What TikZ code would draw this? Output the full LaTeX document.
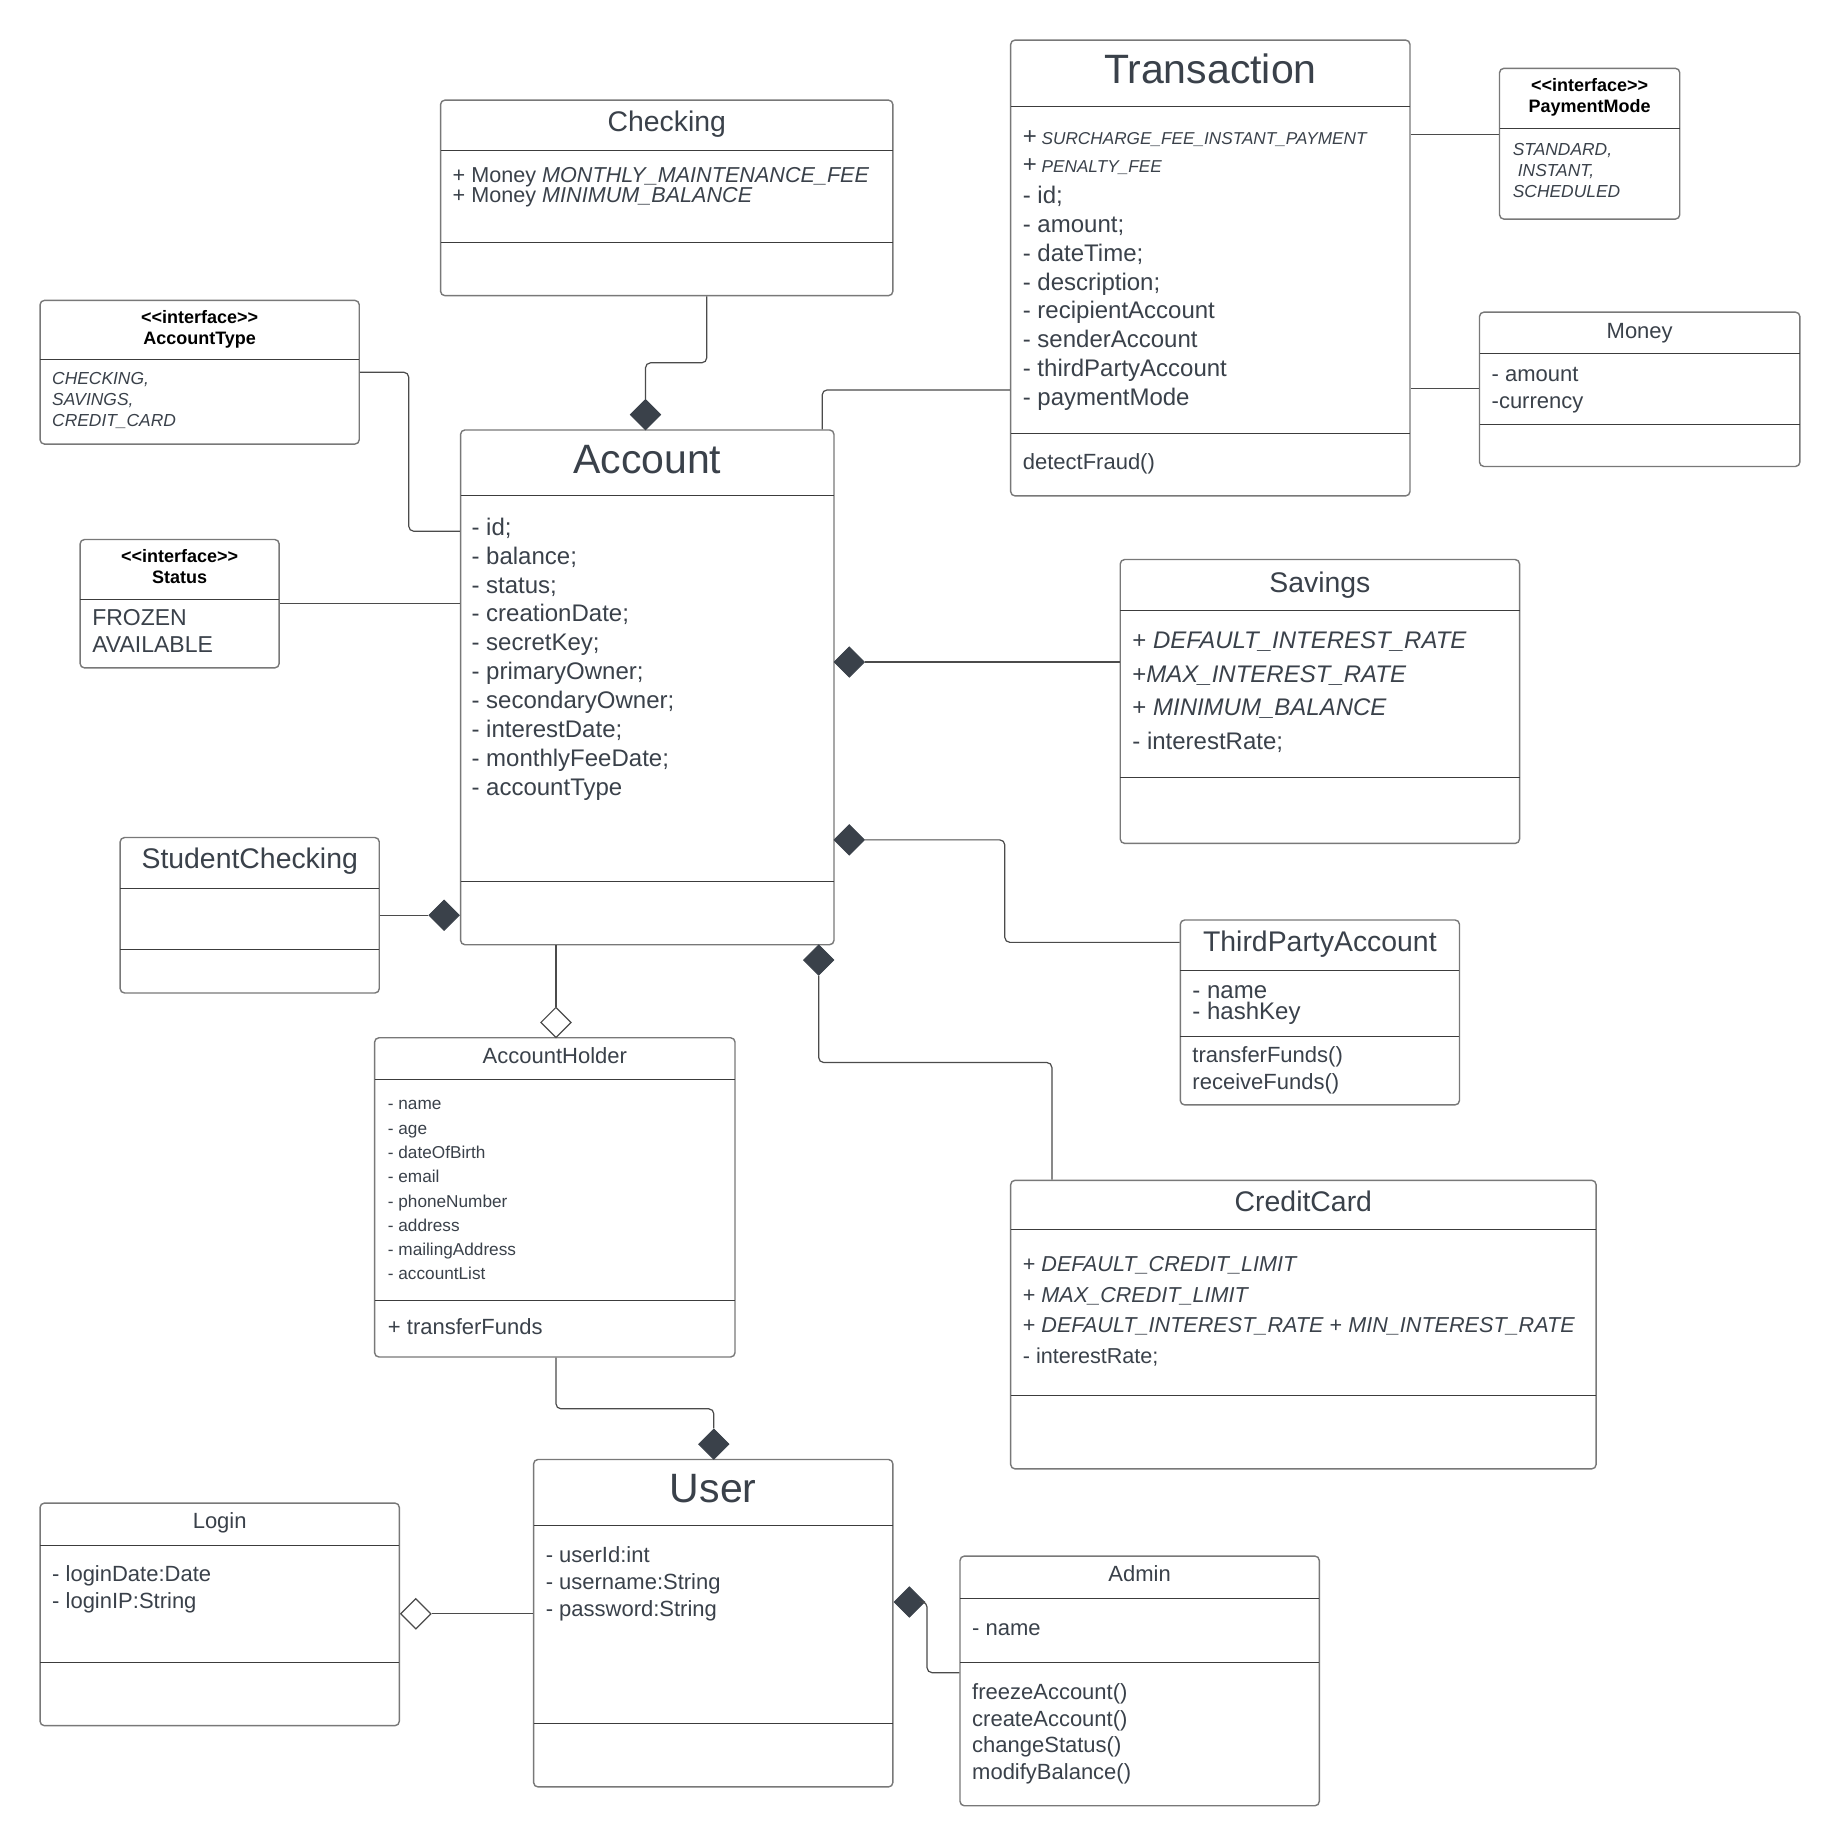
\documentclass[tikz,border=0pt]{standalone}
\usepackage{fontspec}
\setmainfont{Liberation Sans}
\usetikzlibrary{shapes.geometric,fit}
\definecolor{txt}{RGB}{58,65,74}
\definecolor{bord}{RGB}{120,120,120}
\definecolor{divc}{RGB}{60,60,60}
\definecolor{connc}{RGB}{75,75,75}
\definecolor{dfill}{RGB}{58,65,74}
\tikzset{
 box/.style={draw=bord, line width=0.7pt, rounded corners=2.2pt, inner sep=0pt},
 divline/.style={draw=divc, line width=0.5pt},
 conn/.style={draw=connc, line width=0.6pt, rounded corners=2.5pt},
 fdiam/.style={diamond, aspect=1, fill=dfill, draw=dfill, line width=0.4pt, inner sep=0pt, minimum size=15.3pt},
 hdiam/.style={diamond, aspect=1, fill=white, draw=connc, line width=0.6pt, inner sep=0pt, minimum size=15.3pt},
 basetxt/.style={inner sep=0pt, text depth=0pt, text=txt},
 ln/.style={basetxt, anchor=west},
 ttl/.style={basetxt, anchor=center},
 fz/.style 2 args={font=\fontsize{#1pt}{#1pt}\selectfont, text height=#2pt},
 hdr/.style={basetxt, anchor=center, text=black, font=\fontsize{9pt}{9pt}\selectfont\bfseries, text height=6.5pt},
}
\newcommand\umlbox[7]{%
  \node[box, fit={(#2,#3) (#4,#5)}] (#1) {};
  \draw[divline] (#2,#6) -- (#4,#6);
  \ifx&#7&\else\draw[divline] (#2,#7) -- (#4,#7);\fi
}
\newcommand\lns[6]{%
  \foreach \itm [count=\i from 0] in {#6}{\node[#2] (#1\i) at (#3,{#4+\i*#5}) {\itm};}%
}
\begin{document}
\begin{tikzpicture}[x=0.589pt, y=-0.589pt]
\useasboundingbox (0,0) rectangle (1562,1568);
\fill[white] (0,0) rectangle (1562,1568);

% boxes
\umlbox{checking}{374}{85}{758}{251}{128}{206}
\umlbox{transaction}{858}{34}{1197}{421}{90}{368}
\umlbox{paymentmode}{1273}{58}{1426}{186}{109}{}
\umlbox{money}{1256}{265}{1528}{396}{300}{360}
\umlbox{accounttype}{34}{255}{305}{377}{305}{}
\umlbox{status}{68}{458}{237}{567}{509}{}
\umlbox{account}{391}{365}{708}{802}{421}{748}
\umlbox{savings}{951}{475}{1290}{716}{518}{660}
\umlbox{studentchecking}{102}{711}{322}{843}{754}{806}
\umlbox{thirdparty}{1002}{781}{1239}{938}{824}{880}
\umlbox{accountholder}{318}{881}{624}{1152}{916}{1104}
\umlbox{creditcard}{858}{1002}{1355}{1247}{1044}{1185}
\umlbox{user}{453}{1239}{758}{1517}{1295}{1463}
\umlbox{login}{34}{1276}{339}{1465}{1312}{1411}
\umlbox{admin}{815}{1321}{1120}{1533}{1357}{1411}

% titles
\node[ttl,fz={14.2}{10.2}] (checking-t) at (566,103) {Checking};
\node[ttl,fz={20.5}{14.8}] (transaction-t) at (1027.5,58) {Transaction};
\node[hdr] (pm-t1) at (1349.5,72) {<{}<interface>{}>};
\node[hdr] (pm-t2) at (1349.5,90) {PaymentMode};
\node[ttl,fz={11}{7.9}] (money-t) at (1392,281) {Money};
\node[hdr] (at-t1) at (169.5,269) {<{}<interface>{}>};
\node[hdr] (at-t2) at (169.5,287) {AccountType};
\node[hdr] (st-t1) at (152.5,472) {<{}<interface>{}>};
\node[hdr] (st-t2) at (152.5,490) {Status};
\node[ttl,fz={20.5}{14.8}] (account-t) at (549.5,389) {Account};
\node[ttl,fz={14.2}{10.2}] (savings-t) at (1120.5,494) {Savings};
\node[ttl,fz={14.2}{10.2}] (sc-t) at (212,729) {StudentChecking};
\node[ttl,fz={14.2}{10.2}] (tpa-t) at (1120.5,799) {ThirdPartyAccount};
\node[ttl,fz={11}{7.9}] (ah-t) at (471,896) {AccountHolder};
\node[ttl,fz={14.2}{10.2}] (cc-t) at (1106.5,1020) {CreditCard};
\node[ttl,fz={20.5}{14.8}] (user-t) at (605.5,1263) {User};
\node[ttl,fz={11}{7.9}] (login-t) at (186.5,1291) {Login};
\node[ttl,fz={11}{7.9}] (admin-t) at (967.5,1336) {Admin};

% members
\lns{chk}{ln,fz={10.8}{7.8}}{384}{148}{17}{{+ Money \textit{MONTHLY\_MAINTENANCE\_FEE}},{+ Money \textit{MINIMUM\_BALANCE}}}
\node[ln,fz={8.6}{6.2}] (trn-s1) at (868,117) {{\fontsize{12pt}{12pt}\selectfont +} \textit{SURCHARGE\_FEE\_INSTANT\_PAYMENT}};
\node[ln,fz={8.6}{6.2}] (trn-s2) at (868,141) {{\fontsize{12pt}{12pt}\selectfont +} \textit{PENALTY\_FEE}};
\lns{trn}{ln,fz={12}{8.6}}{868}{165.8}{24.4}{{- id;},{- amount;},{- dateTime;},{- description;},{- recipientAccount},{- senderAccount},{- thirdPartyAccount},{- paymentMode}}
\node[ln,fz={11}{7.9}] (trn-m) at (868,392) {detectFraud()};
\lns{pm}{ln,fz={8.7}{6.3}}{1284}{127}{17.5}{{\textit{STANDARD,}},{\hspace{2.5pt}\textit{INSTANT,}},{\textit{SCHEDULED}}}
\lns{mon}{ln,fz={11}{7.9}}{1266}{317}{23}{{- amount},{-currency}}
\lns{at}{ln,fz={8.7}{6.3}}{44}{321}{18}{{\textit{CHECKING,}},{\textit{SAVINGS,}},{\textit{CREDIT\_CARD}}}
\lns{st}{ln,fz={11.5}{8.3}}{78}{524}{23}{FROZEN,AVAILABLE}
\lns{acc}{ln,fz={12}{8.6}}{400}{447}{24.56}{{- id;},{- balance;},{- status;},{- creationDate;},{- secretKey;},{- primaryOwner;},{- secondaryOwner;},{- interestDate;},{- monthlyFeeDate;},{- accountType}}
\lns{sav}{ln,fz={12}{8.6}}{961}{543}{28.7}{{+ \textit{DEFAULT\_INTEREST\_RATE}},{+\textit{MAX\_INTEREST\_RATE}},{+ \textit{MINIMUM\_BALANCE}},{- interestRate;}}
\lns{tpa}{ln,fz={12}{8.6}}{1012}{840}{18}{{- name},{- hashKey}}
\lns{tpm}{ln,fz={11}{7.9}}{1012}{895}{23}{{transferFunds()},{receiveFunds()}}
\lns{ah}{ln,fz={8.6}{6.2}}{329}{937}{20.6}{{- name},{- age},{- dateOfBirth},{- email},{- phoneNumber},{- address},{- mailingAddress},{- accountList}}
\node[ln,fz={11}{7.9}] (ah-m) at (329,1126) {+ transferFunds};
\lns{cc}{ln,fz={10.8}{7.8}}{868}{1073}{26}{{+ \textit{DEFAULT\_CREDIT\_LIMIT}},{+ \textit{MAX\_CREDIT\_LIMIT}},{+ \textit{DEFAULT\_INTEREST\_RATE} + \textit{MIN\_INTEREST\_RATE}},{- interestRate;}}
\lns{usr}{ln,fz={11}{7.9}}{463}{1320}{23}{{- userId:int},{- username:String},{- password:String}}
\lns{lg}{ln,fz={11}{7.9}}{44}{1336}{23}{{- loginDate:Date},{- loginIP:String}}
\node[ln,fz={11}{7.9}] (adm-a) at (825,1382) {- name};
\lns{adm}{ln,fz={11}{7.9}}{825}{1436}{22.7}{{freezeAccount()},{createAccount()},{changeStatus()},{modifyBalance()}}

% diamonds
\node[fdiam] (d-check) at (548,352) {};
\node[fdiam] (d-sav) at (721,562) {};
\node[fdiam] (d-tpa) at (721,713) {};
\node[fdiam] (d-sc) at (377,777) {};
\node[hdiam] (d-ah) at (472,868) {};
\node[fdiam] (d-cc) at (695,815) {};
\node[fdiam] (d-user) at (606,1226) {};
\node[hdiam] (d-login) at (353,1370) {};
\node[fdiam] (d-admin) at (772,1360) {};

% bend points
\coordinate (b1) at (600,308);
\coordinate (b2) at (347,316);
\coordinate (b3) at (347,451);
\coordinate (b5) at (698,331);
\coordinate (b6) at (1230,114);
\coordinate (b7) at (1230,330);
\coordinate (b8) at (853,800);
\coordinate (b9) at (893,902);
\coordinate (b10) at (472,1196);
\coordinate (b11) at (787,1420);

% connectors
\draw[conn] (b1 |- checking.south) -- (b1) -| (d-check.north);
\draw[conn] (b2 -| accounttype.east) -- (b2) -- (b3) -- (b3 -| account.west);
\draw[conn] (status.east) -- (status.east -| account.west);
\draw[conn] (b5 |- account.north) -- (b5) -- (b5 -| transaction.west);
\draw[conn] (b6 -| transaction.east) -- (b6 -| paymentmode.west);
\draw[conn] (b7 -| transaction.east) -- (b7 -| money.west);
\draw[conn] (d-sav.east) -- (d-sav.east -| savings.west);
\draw[conn] (d-tpa.east) -| (b8) -- (b8 -| thirdparty.west);
\draw[conn] (d-sc.west -| studentchecking.east) -- (d-sc.west);
\draw[conn] (d-ah.north |- account.south) -- (d-ah.north);
\draw[conn] (d-cc.south) |- (b9) -- (b9 |- creditcard.north);
\draw[conn] (b10 |- accountholder.south) -- (b10) -| (d-user.north);
\draw[conn] (d-login.east) -- (d-login.east -| user.west);
\draw[conn] (d-admin.east) -| (b11) -- (b11 -| admin.west);
\end{tikzpicture}
\end{document}
